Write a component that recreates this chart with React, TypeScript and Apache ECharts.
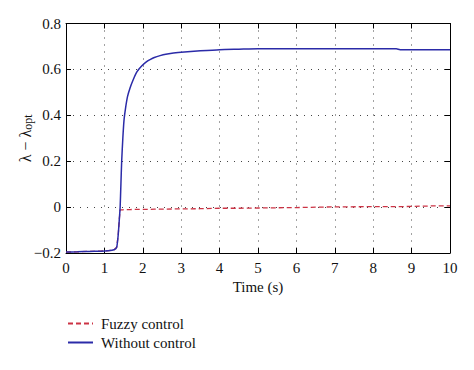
import React, { useEffect, useRef } from "react";
import * as echarts from "echarts";

const timeS = [0, 0.3, 0.6, 0.9, 1.1, 1.25, 1.32, 1.36, 1.39, 1.41, 1.43, 1.45, 1.48, 1.51, 1.55, 1.6, 1.67, 1.75, 1.85, 1.97, 2.1, 2.2, 2.3, 2.45, 2.6, 2.8, 3.0, 3.5, 4.0, 4.5, 5, 6, 7, 8, 8.6, 8.7, 9, 9.5, 10];
const withoutControl = [-0.196, -0.195, -0.193, -0.192, -0.19, -0.186, -0.175, -0.12, -0.05, 0.0, 0.1, 0.2, 0.3, 0.377, 0.43, 0.48, 0.52, 0.555, 0.59, 0.615, 0.634, 0.644, 0.652, 0.66, 0.666, 0.671, 0.675, 0.681, 0.686, 0.688, 0.69, 0.69, 0.69, 0.69, 0.69, 0.686, 0.686, 0.686, 0.686];
const fuzzyControl = [-0.196, -0.195, -0.193, -0.192, -0.19, -0.186, -0.175, -0.12, -0.05, -0.012, -0.012, -0.012, -0.012, -0.011, -0.011, -0.011, -0.011, -0.01, -0.01, -0.01, -0.01, -0.01, -0.009, -0.009, -0.009, -0.008, -0.008, -0.007, -0.005, -0.005, -0.004, -0.002, 0.001, 0.002, 0.002, 0.002, 0.003, 0.005, 0.005];
const seriesNames = ["Fuzzy control", "Without control"];
const xTicks = { min: 0, max: 10, interval: 1 };
const yTicks = { min: -0.2, max: 0.8, interval: 0.2 };

const FONT = "'Liberation Serif', 'Times New Roman', serif";

export default function App() {
  const ref = useRef<HTMLDivElement>(null);
  useEffect(() => {
    const chart = echarts.init(ref.current!, null, { renderer: "svg" });
    const axisLine = { show: true, onZero: false, lineStyle: { color: "#000", width: 1 } };
    const tick = { show: true, inside: true, length: 5, lineStyle: { color: "#000" } };
    const label = { color: "#111", fontFamily: FONT, fontSize: 15 };
    const split = { show: true, lineStyle: { color: "#444", type: [1, 6] as any, width: 1 } };
    chart.setOption({
      animation: false,
      backgroundColor: "#fff",
      textStyle: { fontFamily: FONT },
      grid: { left: 66, right: 24, top: 23.5, bottom: 117, containLabel: false },
      legend: {
        left: 67,
        top: 316,
        padding: 0,
        orient: "vertical",
        itemWidth: 25,
        itemHeight: 14,
        itemGap: 4,
        itemStyle: { opacity: 0 },
        textStyle: { fontFamily: FONT, fontSize: 15, color: "#111", padding: [0, 0, 0, 3] },
        data: seriesNames,
      },
      xAxis: [
        {
          type: "value",
          min: xTicks.min,
          max: xTicks.max,
          interval: xTicks.interval,
          position: "bottom",
          name: "Time (s)",
          nameLocation: "middle",
          nameGap: 26,
          nameMoveOverlap: false,
          nameTextStyle: { fontFamily: FONT, fontSize: 15, color: "#111" },
          axisLine,
          axisTick: tick,
          axisLabel: { ...label, margin: 7 },
          splitLine: split,
        },
        {
          type: "value",
          min: xTicks.min,
          max: xTicks.max,
          interval: xTicks.interval,
          position: "top",
          axisLine,
          axisTick: tick,
          axisLabel: { show: false },
          splitLine: { show: false },
        },
      ],
      yAxis: [
        {
          type: "value",
          min: yTicks.min,
          max: yTicks.max,
          interval: yTicks.interval,
          position: "left",
          name: "{a|λ − λ}{s|opt}",
          nameLocation: "middle",
          nameRotate: 90,
          nameGap: 32,
          nameMoveOverlap: false,
          nameTextStyle: {
            rich: {
              a: { fontFamily: FONT, fontSize: 16, color: "#111" },
              s: { fontFamily: FONT, fontSize: 12, color: "#111", verticalAlign: "bottom", padding: [6, 0, 0, 0] },
            },
          },
          axisLine,
          axisTick: tick,
          axisLabel: { ...label, margin: 5, formatter: (v: number) => (Math.abs(v) < 1e-9 ? "0" : v < 0 ? "−" + String(Math.abs(+v.toFixed(1))) : String(+v.toFixed(1))) },
          splitLine: split,
        },
        {
          type: "value",
          min: yTicks.min,
          max: yTicks.max,
          interval: yTicks.interval,
          position: "right",
          axisLine,
          axisTick: tick,
          axisLabel: { show: false },
          splitLine: { show: false },
        },
      ],
      series: [
        {
          name: seriesNames[0],
          type: "line",
          symbol: "none",
          data: timeS.map((t, i) => [t, fuzzyControl[i]]),
          lineStyle: { color: "#cc3344", width: 1.3, type: [5, 3] },
          itemStyle: { color: "#cc3344" },
        },
        {
          name: seriesNames[1],
          type: "line",
          symbol: "none",
          smooth: 0.2,
          data: timeS.map((t, i) => [t, withoutControl[i]]),
          lineStyle: { color: "#2b2ba8", width: 1.5 },
          itemStyle: { color: "#2b2ba8" },
        },
      ],
    });
    return () => chart.dispose();
  }, []);
  return <div ref={ref} style={{ width: 474, height: 370, position: "absolute", left: 0, top: 0 }} />;
}
